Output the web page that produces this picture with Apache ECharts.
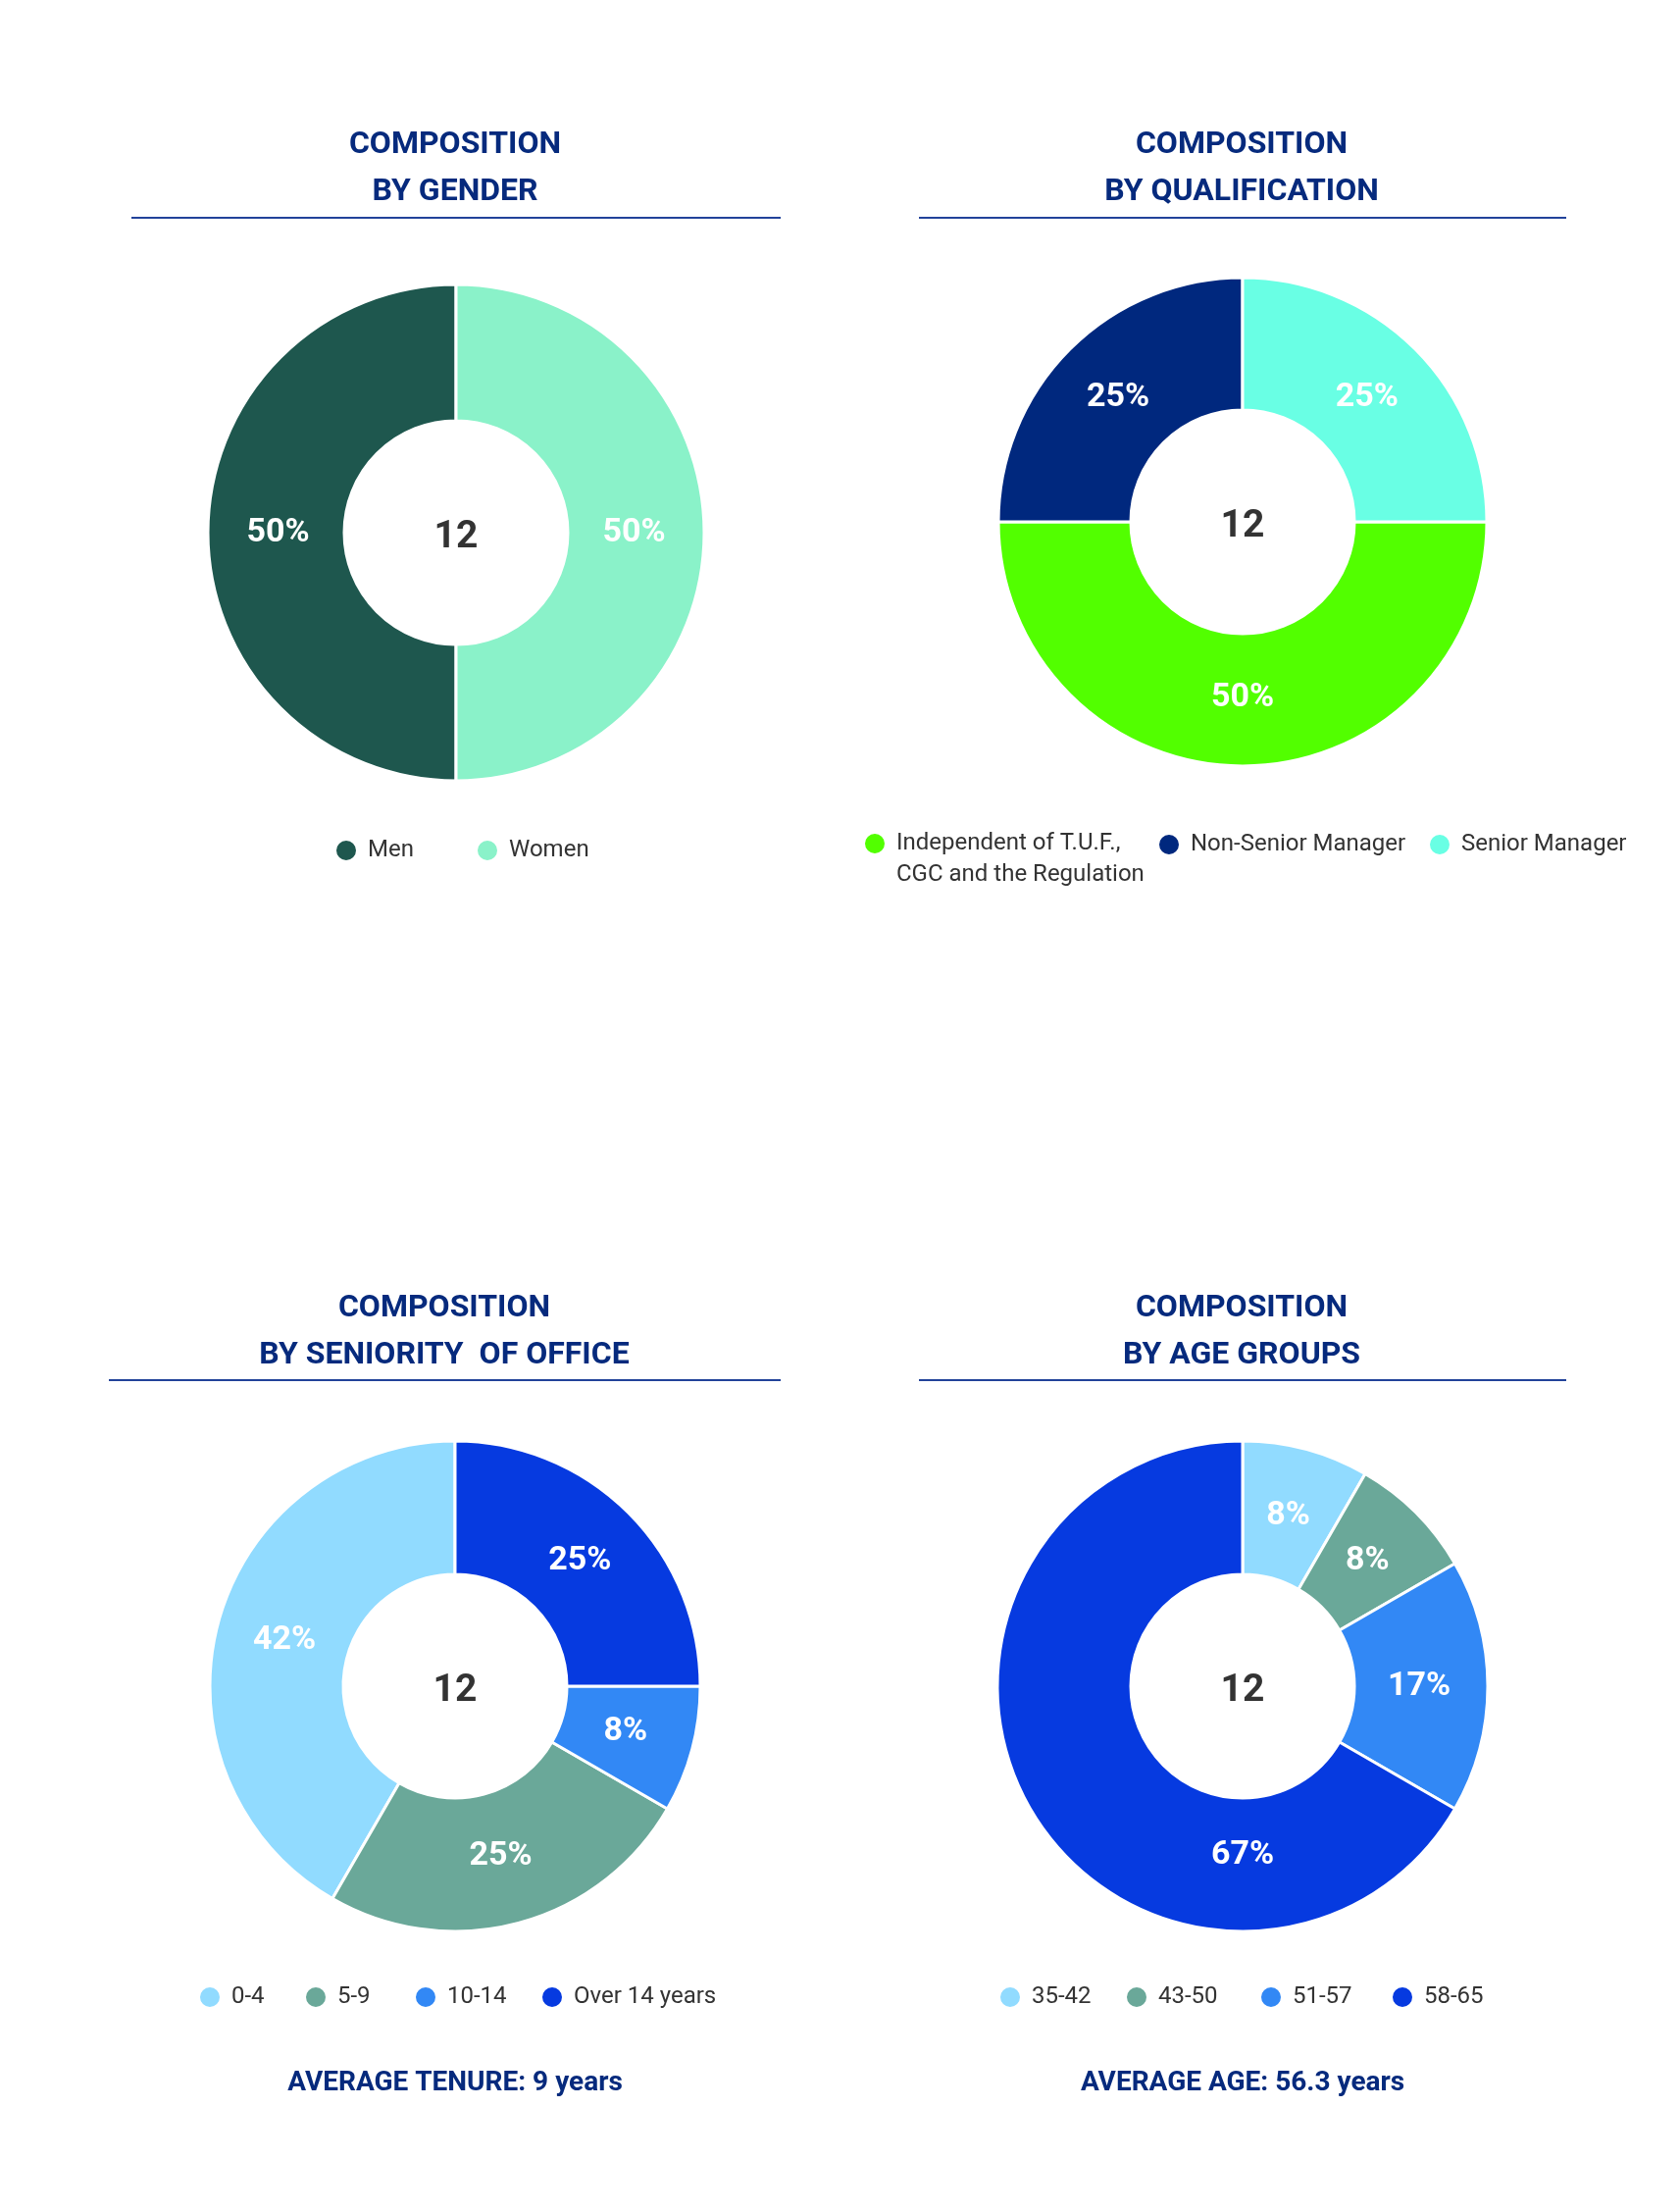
<!DOCTYPE html>
<html>
<head>
<meta charset="utf-8">
<style>
  html, body { margin: 0; padding: 0; background: #ffffff; }
  #chart { width: 1713px; height: 2253px; }
</style>
<script src="https://cdn.jsdelivr.net/npm/echarts@6/dist/echarts.min.js"></script>
</head>
<body>
<div id="chart"></div>
<script>
// ---------------- DATA ----------------
const genderCategories = ['Men', 'Women'];
const genderCounts = [6, 6];

const qualificationCategories = ['Independent of T.U.F., CGC and the Regulation', 'Non-Senior Manager', 'Senior Manager'];
const qualificationCounts = [6, 3, 3];

const seniorityCategories = ['0-4', '5-9', '10-14', 'Over 14 years'];
const seniorityCounts = [5, 3, 1, 3];

const ageCategories = ['35-42', '43-50', '51-57', '58-65'];
const ageCounts = [1, 1, 2, 8];

const averageTenureText = 'AVERAGE TENURE: 9 years';
const averageAgeText = 'AVERAGE AGE: 56.3 years';

// ---------------- STYLE / LAYOUT ----------------
const FONT = 'Roboto';
const NAVY = '#062a7d';
const LINE = '#22439a';

const genderColors = ['#1e574e', '#8af2c9'];
const qualificationColors = ['#52ff00', '#00287e', '#69ffe4'];
const blueColors = ['#91dbff', '#6aa899', '#3288f5', '#063ae0'];

const charts = [
  { key: 'gender', names: genderCategories, values: genderCounts, colors: genderColors,
    center: [465, 543], radius: [114, 253], startAngle: 90, clockwise: false,
    title: ['COMPOSITION', 'BY GENDER'], titleX: 464, titleY: 148, line: [134, 796, 222],
    legendTop: 855, legendLefts: [341, 485] },
  { key: 'qual', names: qualificationCategories, values: qualificationCounts, colors: qualificationColors,
    center: [1267, 532], radius: [114, 249], startAngle: 0, clockwise: true,
    title: ['COMPOSITION', 'BY QUALIFICATION'], titleX: 1266, titleY: 148, line: [937, 1597, 222],
    legendTop: 849, legendLefts: [880, 1180, 1456] },
  { key: 'sen', names: seniorityCategories, values: seniorityCounts, colors: blueColors,
    center: [464, 1719], radius: [114, 250], startAngle: 90, clockwise: false,
    title: ['COMPOSITION', 'BY SENIORITY  OF OFFICE'], titleX: 453, titleY: 1334, line: [111, 796, 1407],
    legendTop: 2024, legendLefts: [202, 310, 422, 551],
    footer: averageTenureText, footerX: 464 },
  { key: 'age', names: ageCategories, values: ageCounts, colors: blueColors,
    center: [1267, 1719], radius: [114, 250], startAngle: 90, clockwise: true,
    title: ['COMPOSITION', 'BY AGE GROUPS'], titleX: 1266, titleY: 1334, line: [937, 1597, 1407],
    legendTop: 2024, legendLefts: [1018, 1147, 1284, 1418],
    footer: averageAgeText, footerX: 1267, bigLabelBottom: true }
];

const series = [];
const legends = [];
const graphics = [];

charts.forEach(function (c) {
  let largestIdx = 0;
  c.values.forEach(function (v, i) { if (v > c.values[largestIdx]) largestIdx = i; });
  const labelR = (c.radius[0] + c.radius[1]) / 2 - 2;

  series.push({
    type: 'pie',
    name: c.key,
    center: c.center,
    radius: c.radius,
    startAngle: c.startAngle,
    clockwise: c.clockwise,
    avoidLabelOverlap: false,
    silent: true,
    itemStyle: { borderColor: '#ffffff', borderWidth: 3 },
    label: {
      show: true,
      position: 'inside',
      color: '#ffffff',
      fontFamily: FONT,
      fontWeight: 'bold',
      fontSize: 34,
      formatter: function (p) { return Math.round(p.percent) + '%'; }
    },
    labelLine: { show: false },
    labelLayout: function (params) {
      if (c.bigLabelBottom && params.dataIndex === largestIdx) {
        return { x: c.center[0], y: c.center[1] + labelR - 8 };
      }
      const r = params.labelRect;
      const lx = r.x + r.width / 2 - c.center[0];
      const ly = r.y + r.height / 2 - c.center[1];
      const d = Math.sqrt(lx * lx + ly * ly) || 1;
      return { x: c.center[0] + lx / d * labelR, y: c.center[1] + ly / d * labelR };
    },
    data: c.names.map(function (n, i) {
      return { name: n, value: c.values[i], itemStyle: { color: c.colors[i] } };
    })
  });

  c.names.forEach(function (n, i) {
    const multi = n.indexOf('Independent') === 0;
    legends.push({
      data: [n],
      left: c.legendLefts[i],
      top: multi ? c.legendTop - 37 : c.legendTop,
      padding: 0,
      icon: 'circle',
      itemWidth: 22,
      itemHeight: 22,
      selectedMode: false,
      formatter: multi ? function () { return ' \nIndependent of T.U.F.,\nCGC and the Regulation'; } : '{name}',
      textStyle: {
        fontFamily: FONT,
        fontSize: 24,
        color: '#333333',
        lineHeight: multi ? 32 : 22,
        padding: [0, 0, 0, 6]
      }
    });
  });

  // titles
  graphics.push({
    type: 'text', x: c.titleX, y: c.titleY,
    style: { text: c.title[0], align: 'center', verticalAlign: 'middle',
      font: 'bold 32px ' + FONT, fill: NAVY }
  });
  graphics.push({
    type: 'text', x: c.titleX, y: c.titleY + 47.5,
    style: { text: c.title[1], align: 'center', verticalAlign: 'middle',
      font: 'bold 32px ' + FONT, fill: NAVY }
  });
  graphics.push({
    type: 'line',
    shape: { x1: c.line[0], y1: c.line[2], x2: c.line[1], y2: c.line[2] },
    style: { stroke: LINE, lineWidth: 2 }
  });
  // centre total
  const total = c.values.reduce(function (a, b) { return a + b; }, 0);
  graphics.push({
    type: 'text', x: c.center[0], y: c.center[1] + 5, z: 10,
    style: { text: String(total), align: 'center', verticalAlign: 'middle',
      font: 'bold 39px ' + FONT, fill: '#333333' }
  });
  if (c.footer) {
    graphics.push({
      type: 'text', x: c.footerX, y: 2124,
      style: { text: c.footer, align: 'center', verticalAlign: 'middle',
        font: 'bold 28px ' + FONT, fill: NAVY }
    });
  }
});

const chart = echarts.init(document.getElementById('chart'), null, { renderer: 'canvas' });
chart.setOption({
  backgroundColor: '#ffffff',
  animation: false,
  tooltip: { show: false },
  legend: legends,
  series: series,
  graphic: graphics
});
</script>
</body>
</html>
